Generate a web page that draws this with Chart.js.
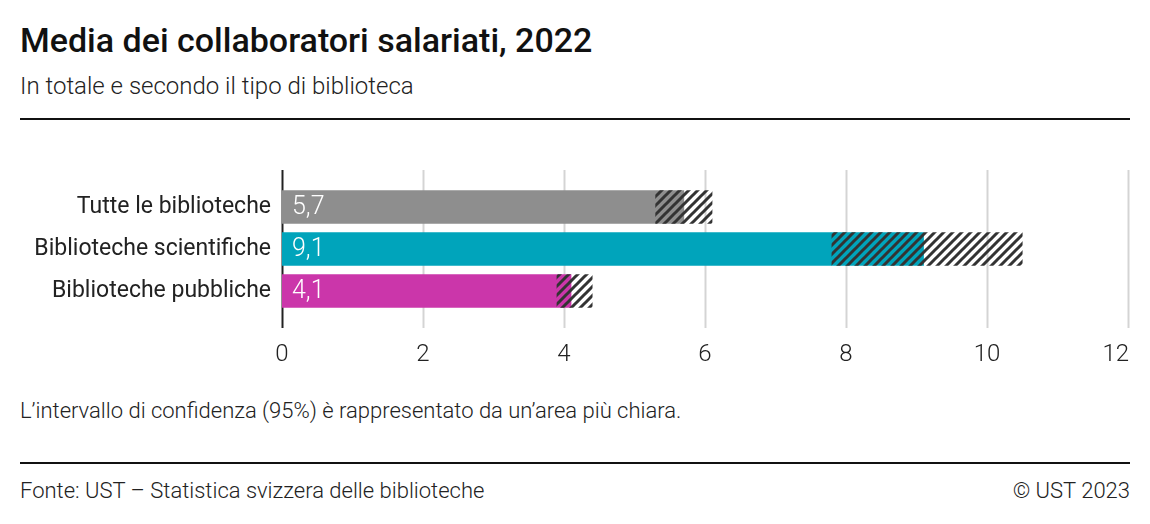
<!DOCTYPE html>
<html>
<head>
<meta charset="utf-8">
<script src="https://cdn.jsdelivr.net/npm/chart.js@4"></script>
<style>
    body { margin: 0; background: #fff; font-family: Roboto, sans-serif; color: #111; }
    #wrap { position: relative; width: 1150px; height: 524px; }
    .title { position: absolute; left: 20px; top: 20px; font-size: 34px; font-weight: 500; line-height: 40px; }
    .sub { position: absolute; left: 20px; top: 72px; font-size: 24px; font-weight: 300; color: #222; line-height: 28px; }
    .rule { position: absolute; left: 20px; width: 1110px; height: 2px; background: #111; }
    .note { position: absolute; left: 20px; top: 398px; font-size: 22px; font-weight: 300; color: #222; line-height: 26px; }
    .src { position: absolute; left: 20px; top: 478px; font-size: 22px; font-weight: 300; color: #222; line-height: 26px; }
    .copy { position: absolute; right: 20px; top: 478px; font-size: 22px; font-weight: 300; color: #222; line-height: 26px; }
    #box { position: absolute; left: 0; top: 150px; width: 1150px; height: 230px; }
</style>
</head>
<body>
<div id="wrap">
    <div class="title">Media dei collaboratori salariati, 2022</div>
    <div class="sub">In totale e secondo il tipo di biblioteca</div>
    <div class="rule" style="top:118px"></div>
    <div id="box"><canvas id="chart"></canvas></div>
    <div class="note">L’intervallo di confidenza (95%) è rappresentato da un’area più chiara.</div>
    <div class="rule" style="top:462px"></div>
    <div class="src">Fonte: UST – Statistica svizzera delle biblioteche</div>
    <div class="copy">© UST 2023</div>
</div>
<script>
const categories = ['Tutte le biblioteche', 'Biblioteche scientifiche', 'Biblioteche pubbliche'];
const values = [5.7, 9.1, 4.1];
const ciLow = [5.3, 7.8, 3.9];
const ciHigh = [6.1, 10.5, 4.4];
const xTicks = [0, 2, 4, 6, 8, 10, 12];

const barColors = ['rgb(142,142,142)', 'rgb(0,164,187)', 'rgb(203,54,170)'];

function makeHatch() {
    const c = document.createElement('canvas');
    c.width = 9;
    c.height = 9;
    const g = c.getContext('2d');
    g.strokeStyle = '#333';
    g.lineWidth = 3;
    g.beginPath();
    g.moveTo(0, 9); g.lineTo(9, 0);
    g.moveTo(-2, 2); g.lineTo(2, -2);
    g.moveTo(7, 11); g.lineTo(11, 7);
    g.stroke();
    return document.getElementById('chart').getContext('2d').createPattern(c, 'repeat');
}

// long grid lines + zero line reaching past the bars, and the x tick labels
const gridPlugin = {
    id: 'gridPlugin',
    beforeDatasetsDraw(chart) {
        const ctx = chart.ctx;
        const x = chart.scales.x;
        const a = chart.chartArea;
        ctx.save();
        xTicks.forEach(t => {
            const px = Math.round(x.getPixelForValue(t)) + 0.5;
            ctx.strokeStyle = t === 0 ? '#222' : '#d4d4d4';
            ctx.lineWidth = 2;
            ctx.beginPath();
            ctx.moveTo(px, a.top - 16);
            ctx.lineTo(px, a.bottom + 16);
            ctx.stroke();
        });
        ctx.font = '300 24px Roboto';
        ctx.fillStyle = '#222';
        ctx.textBaseline = 'middle';
        xTicks.forEach((t, i) => {
            const last = i === xTicks.length - 1;
            ctx.textAlign = last ? 'right' : 'center';
            ctx.fillText(String(t), x.getPixelForValue(t) + (last ? 1 : 0), a.bottom + 43);
        });
        ctx.restore();
    }
};

const valueLabels = {
    id: 'valueLabels',
    afterDatasetsDraw(chart) {
        const ctx = chart.ctx;
        const meta = chart.getDatasetMeta(1);
        ctx.save();
        ctx.font = '300 25px Roboto';
        ctx.fillStyle = '#fff';
        ctx.textBaseline = 'middle';
        meta.data.forEach((bar, i) => {
            ctx.fillText(values[i].toString().replace('.', ','), bar.base + 10, bar.y + 1);
        });
        ctx.restore();
    }
};

new Chart(document.getElementById('chart'), {
    type: 'bar',
    data: {
        labels: categories,
        datasets: [{
            label: 'IC 95%',
            data: ciLow.map((v, i) => [v, ciHigh[i]]),
            backgroundColor: makeHatch(),
            barThickness: 33,
            grouped: false
        }, {
            label: 'Media',
            data: values,
            backgroundColor: barColors,
            barThickness: 33,
            grouped: false
        }]
    },
    options: {
        indexAxis: 'y',
        responsive: true,
        maintainAspectRatio: false,
        animation: false,
        layout: { padding: { top: 36, right: 22, left: 0, bottom: 10 } },
        plugins: {
            legend: { display: false },
            tooltip: { enabled: false }
        },
        scales: {
            x: {
                min: 0,
                max: 12,
                afterBuildTicks: s => { s.ticks = xTicks.map(v => ({ value: v })); },
                afterFit: s => { s.height = 58; s.paddingLeft = 0; s.paddingRight = 0; },
                grid: { display: false, drawTicks: false },
                border: { display: false },
                ticks: { display: false }
            },
            y: {
                afterFit: s => { s.width = 282; s.paddingTop = 0; s.paddingBottom = 0; },
                grid: { display: false, drawTicks: false },
                border: { display: false },
                ticks: { padding: 11, color: '#222', font: { family: 'Roboto', size: 23 } }
            }
        }
    },
    plugins: [gridPlugin, valueLabels]
});
</script>
</body>
</html>
